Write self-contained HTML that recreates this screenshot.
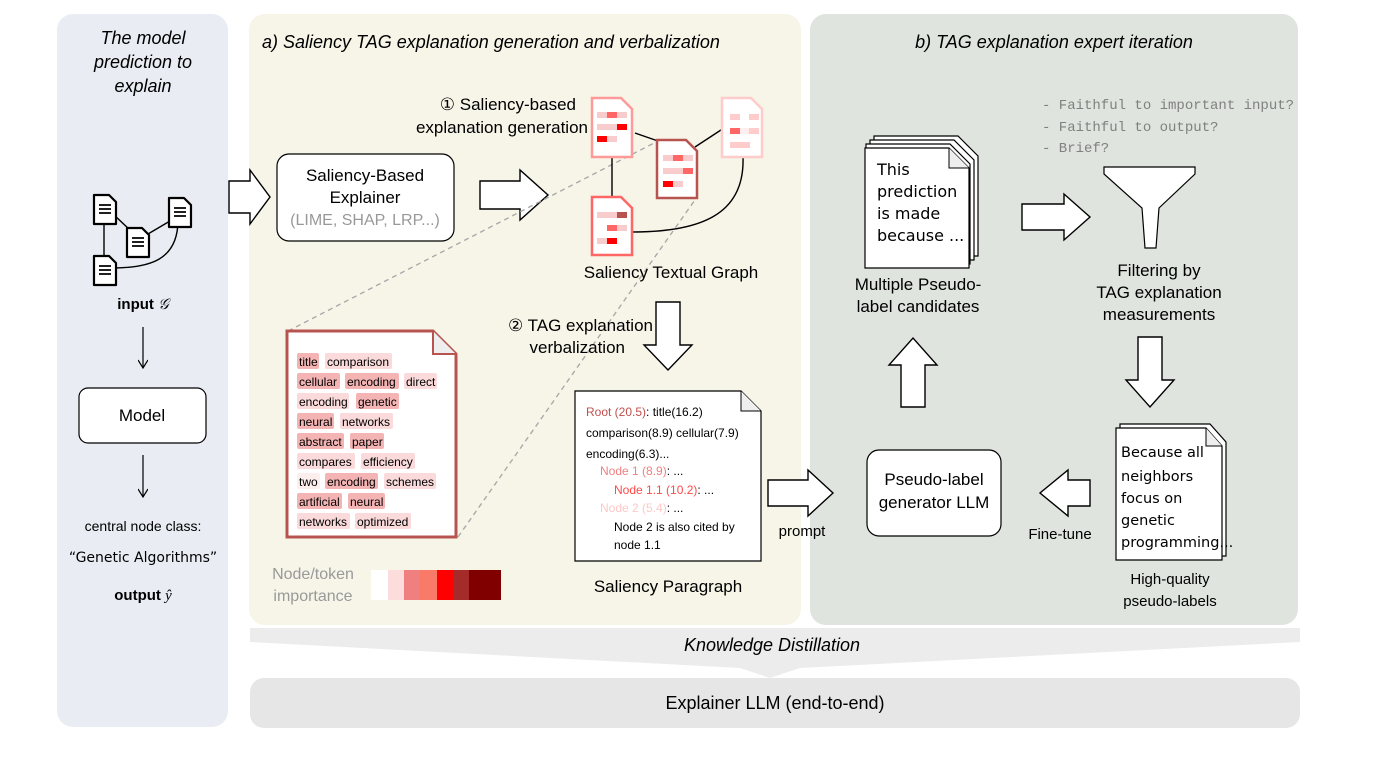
<!DOCTYPE html>
<html><head><meta charset="utf-8"><style>
html,body{margin:0;padding:0;background:#fff;}
svg{display:block;font-family:"Liberation Sans",sans-serif;}
.c{font-family:"DejaVu Sans","Liberation Sans",sans-serif;}
</style></head><body>
<svg width="1380" height="759" viewBox="0 0 1380 759" xmlns="http://www.w3.org/2000/svg">
<defs>
<marker id="ah" markerWidth="10" markerHeight="10" refX="9" refY="5" orient="auto" markerUnits="userSpaceOnUse"><path d="M1,0 L9,5 L1,10" fill="none" stroke="#000" stroke-width="1.2"/></marker>
</defs>
<!-- panels -->
<rect x="57" y="14" width="171" height="713" rx="16" fill="#e9edf3"/>
<polygon points="250,628 1300,628 1300,642 800,668 770,678 740,668 250,642" fill="#ececec"/>
<rect x="249" y="14" width="552" height="611" rx="16" fill="#f7f4e8"/>
<rect x="810" y="14" width="488" height="611" rx="16" fill="#dfe4df"/>
<rect x="250" y="678" width="1050" height="50" rx="14" fill="#e6e6e6"/>

<!-- left panel -->
<g font-style="italic" font-size="18" text-anchor="middle">
<text x="143" y="44">The model</text><text x="143" y="68">prediction to</text><text x="143" y="92">explain</text></g>
<g stroke="#000" stroke-width="1.4" fill="none">
<line x1="104" y1="208" x2="104" y2="262"/>
<line x1="113" y1="214" x2="130" y2="230"/>
<line x1="148" y1="234" x2="170" y2="221"/>
<path d="M178,220 C178,260 150,268 112,268"/>
</g>
<g fill="#fff" stroke="#000" stroke-width="2.2" stroke-linejoin="round">
<path d="M94,195 h15 l7,7 v22 h-22 z"/><path d="M169,198 h15 l7,7 v22 h-22 z"/>
<path d="M127,228 h15 l7,7 v22 h-22 z"/><path d="M94,256 h15 l7,7 v22 h-22 z"/>
</g>
<g stroke="#000" stroke-width="1.8">
<path d="M99,205h12M99,209h12M99,213h12M174,208h12M174,212h12M174,216h12M132,238h12M132,242h12M132,246h12M99,266h12M99,270h12M99,274h12"/></g>
<text x="143" y="309" font-size="15" text-anchor="middle"><tspan font-weight="bold">input </tspan><tspan font-style="italic" font-family="Liberation Serif">𝒢</tspan></text>
<line x1="143" y1="327" x2="143" y2="368" stroke="#000" stroke-width="1.2" marker-end="url(#ah)"/>
<rect x="79" y="388" width="127" height="55" rx="9" fill="#fff" stroke="#000" stroke-width="1.2"/>
<text x="142" y="421" font-size="17" text-anchor="middle">Model</text>
<line x1="143" y1="455" x2="143" y2="497" stroke="#000" stroke-width="1.2" marker-end="url(#ah)"/>
<text x="143" y="531" font-size="14" text-anchor="middle">central node class:</text>
<text x="143" y="562" font-size="14" text-anchor="middle" class="c">“Genetic Algorithms”</text>
<text x="143" y="600" font-size="15" text-anchor="middle"><tspan font-weight="bold">output </tspan><tspan font-style="italic" font-family="Liberation Serif">ŷ</tspan></text>

<!-- middle panel -->
<text x="262" y="48" font-size="18" font-style="italic">a) Saliency TAG explanation generation and verbalization</text>
<g fill="#fff" stroke="#000" stroke-width="1.4">
<polygon points="229,181 250,181 250,170 270,197 250,224 250,213 229,213"/>
<polygon points="480,181 520,181 520,170 548,195 520,220 520,209 480,209"/>
<polygon points="656,302 680,302 680,345 692,345 668,370 644,345 656,345"/>
<polygon points="768,480 808,480 808,470 833,493 808,516 808,506 768,506"/>
</g>
<rect x="277" y="154" width="177" height="87" rx="12" fill="#fff" stroke="#000" stroke-width="1.2"/>
<text x="365" y="181" font-size="17" text-anchor="middle">Saliency-Based</text>
<text x="365" y="203" font-size="17" text-anchor="middle">Explainer</text>
<text x="365" y="225" font-size="16" text-anchor="middle" fill="#999">(LIME, SHAP, LRP...)</text>
<text x="576" y="110" font-size="17" text-anchor="end">① Saliency-based</text>
<text x="588" y="133" font-size="17" text-anchor="end">explanation generation</text>
<g stroke="#aaa" stroke-width="1.4" stroke-dasharray="5,4" fill="none">
<line x1="288" y1="331" x2="658" y2="141"/>
<line x1="458" y1="537" x2="697" y2="197"/>
</g>
<g stroke="#000" stroke-width="1.4" fill="none">
<line x1="635" y1="133" x2="658" y2="141"/>
<line x1="695" y1="147" x2="724" y2="128"/>
<line x1="612" y1="157" x2="612" y2="197"/>
<path d="M743,157 C745,215 700,232 632,232"/>
</g>
<g stroke-width="2.5" fill="#fff">
<path d="M592,98 h29 l11,11 v48 h-40 z" stroke="#ff9a9a"/>
<path d="M657,140 h29 l11,11 v47 h-40 z" stroke="#b85450"/>
<path d="M722,98 h29 l11,11 v48 h-40 z" stroke="#ffcccc"/>
<path d="M592,197 h29 l11,11 v47 h-40 z" stroke="#ff6666"/>
</g>
<g>
<rect x="597" y="112" width="30" height="6" fill="#f8cccc"/><rect x="607" y="112" width="10" height="6" fill="#ff6666"/>
<rect x="597" y="124" width="30" height="6" fill="#f8cccc"/><rect x="617" y="124" width="10" height="6" fill="#ff0000"/>
<rect x="597" y="136" width="20" height="6" fill="#f8cccc"/><rect x="597" y="136" width="10" height="6" fill="#ff0000"/>
<rect x="663" y="155" width="30" height="6" fill="#f8cccc"/><rect x="673" y="155" width="10" height="6" fill="#ff6666"/>
<rect x="663" y="168" width="30" height="6" fill="#f8cccc"/><rect x="683" y="168" width="10" height="6" fill="#ff6666"/>
<rect x="663" y="181" width="20" height="6" fill="#f8cccc"/><rect x="663" y="181" width="10" height="6" fill="#ff0000"/>
<rect x="730" y="114" width="10" height="6" fill="#ffcccc"/><rect x="749" y="114" width="10" height="6" fill="#ffcccc"/>
<rect x="730" y="128" width="10" height="6" fill="#ff6666"/><rect x="740" y="128" width="9" height="6" fill="#ffeeee"/><rect x="749" y="128" width="10" height="6" fill="#ffcccc"/>
<rect x="730" y="142" width="20" height="6" fill="#ffcccc"/>
<rect x="597" y="212" width="30" height="6" fill="#f8cccc"/><rect x="617" y="212" width="10" height="6" fill="#b85450"/>
<rect x="607" y="225" width="20" height="6" fill="#f8cccc"/><rect x="607" y="225" width="10" height="6" fill="#ff6666"/>
<rect x="597" y="238" width="20" height="6" fill="#f8cccc"/><rect x="607" y="238" width="10" height="6" fill="#ff0000"/>
</g>
<text x="671" y="278" font-size="17" text-anchor="middle">Saliency Textual Graph</text>
<text x="653" y="331" font-size="17" text-anchor="end">② TAG explanation</text>
<text x="625" y="353" font-size="17" text-anchor="end">verbalization</text>

<path d="M287,331 h146 l23,23 v183 h-169 z" fill="#fff" stroke="#b85450" stroke-width="3"/>
<path d="M433,331 v23 h23" fill="#eee" stroke="#b85450" stroke-width="2"/>
<g font-size="12">
<g fill="#f4b4b4"><rect x="297" y="353" width="22" height="16" rx="2"/><rect x="297" y="373" width="43" height="16" rx="2"/><rect x="345" y="373" width="54" height="16" rx="2"/><rect x="356" y="393" width="43" height="16" rx="2"/><rect x="297" y="413" width="37" height="16" rx="2"/><rect x="297" y="433" width="47" height="16" rx="2"/><rect x="350" y="433" width="34" height="16" rx="2"/><rect x="325" y="473" width="53" height="16" rx="2"/><rect x="297" y="493" width="45" height="16" rx="2"/><rect x="348" y="493" width="37" height="16" rx="2"/></g>
<g fill="#fadada"><rect x="325" y="353" width="67" height="16" rx="2"/><rect x="404" y="373" width="33" height="16" rx="2"/><rect x="297" y="393" width="52" height="16" rx="2"/><rect x="340" y="413" width="53" height="16" rx="2"/><rect x="297" y="453" width="58" height="16" rx="2"/><rect x="361" y="453" width="54" height="16" rx="2"/><rect x="384" y="473" width="52" height="16" rx="2"/><rect x="297" y="513" width="53" height="16" rx="2"/><rect x="355" y="513" width="56" height="16" rx="2"/></g>
<g fill="#fdeeee"><rect x="297" y="473" width="23" height="16" rx="2"/></g>
<text x="299" y="366">title</text><text x="327" y="366">comparison</text>
<text x="299" y="386">cellular</text><text x="347" y="386">encoding</text><text x="406" y="386">direct</text>
<text x="299" y="406">encoding</text><text x="358" y="406">genetic</text>
<text x="299" y="426">neural</text><text x="342" y="426">networks</text>
<text x="299" y="446">abstract</text><text x="352" y="446">paper</text>
<text x="299" y="466">compares</text><text x="363" y="466">efficiency</text>
<text x="299" y="486">two</text><text x="327" y="486">encoding</text><text x="386" y="486">schemes</text>
<text x="299" y="506">artificial</text><text x="350" y="506">neural</text>
<text x="299" y="526">networks</text><text x="357" y="526">optimized</text>
</g>
<text x="313" y="579" font-size="16" fill="#999" text-anchor="middle">Node/token</text>
<text x="313" y="601" font-size="16" fill="#999" text-anchor="middle">importance</text>
<rect x="371" y="570" width="17" height="30" fill="#fff"/><rect x="388" y="570" width="16" height="30" fill="#fddcdc"/><rect x="404" y="570" width="16" height="30" fill="#f08080"/><rect x="420" y="570" width="17" height="30" fill="#fa7a6a"/><rect x="437" y="570" width="16" height="30" fill="#ff0000"/><rect x="453" y="570" width="16" height="30" fill="#a52a2a"/><rect x="469" y="570" width="32" height="30" fill="#800000"/>

<path d="M575,391 h166 l20,20 v150 h-186 z" fill="#fff" stroke="#000" stroke-width="1.2"/>
<path d="M741,391 v20 h20" fill="#eee" stroke="#000" stroke-width="1"/>
<g font-size="12">
<text x="586" y="416"><tspan fill="#c0504d">Root (20.5)</tspan>: title(16.2)</text>
<text x="586" y="437">comparison(8.9) cellular(7.9)</text>
<text x="586" y="458">encoding(6.3)...</text>
<text x="600" y="475"><tspan fill="#f08080">Node 1 (8.9)</tspan>: ...</text>
<text x="614" y="494"><tspan fill="#ff4a4a">Node 1.1 (10.2)</tspan>: ...</text>
<text x="600" y="512"><tspan fill="#ffc8c8">Node 2 (5.4)</tspan>: ...</text>
<text x="614" y="531">Node 2 is also cited by</text>
<text x="614" y="549">node 1.1</text>
</g>
<text x="668" y="592" font-size="17" text-anchor="middle">Saliency Paragraph</text>
<text x="802" y="536" font-size="15" text-anchor="middle">prompt</text>

<!-- right panel -->
<text x="1054" y="48" font-size="18" font-style="italic" text-anchor="middle">b) TAG explanation expert iteration</text>
<g font-family="Liberation Mono,monospace" font-size="14" fill="#808080">
<text x="1042" y="109">- Faithful to important input?</text>
<text x="1042" y="131">- Faithful to output?</text>
<text x="1042" y="152">- Brief?</text></g>
<g fill="#fff" stroke="#000" stroke-width="1.2">
<path d="M874,136 h84 l20,20 v100 h-104 z"/>
<path d="M870,140 h84 l20,20 v100 h-104 z"/>
<path d="M866,144 h84 l20,20 v100 h-104 z"/>
<path d="M865,148 h84 l20,20 v100 h-104 z"/>
</g>
<path d="M949,148 v20 h20" fill="#eee" stroke="#000" stroke-width="1"/>
<g class="c" font-size="16"><text x="877" y="175">This</text><text x="877" y="197">prediction</text><text x="877" y="219">is made</text><text x="877" y="241">because ...</text></g>
<text x="918" y="290" font-size="17" text-anchor="middle">Multiple Pseudo-</text>
<text x="918" y="312" font-size="17" text-anchor="middle">label candidates</text>
<g fill="#fff" stroke="#000" stroke-width="1.4">
<polygon points="1022,204 1064,204 1064,194 1090,217 1064,240 1064,230 1022,230"/>
<polygon points="1138,337 1162,337 1162,380 1174,380 1150,407 1126,380 1138,380"/>
<polygon points="1090,480 1068,480 1068,470 1040,493 1068,516 1068,506 1090,506"/>
<polygon points="901,407 925,407 925,365 937,365 913,338 889,365 901,365"/>
</g>
<polygon points="1104,167 1195,167 1195,174 1159,208 1156,248 1145,248 1142,208 1104,174" fill="#fff" stroke="#000" stroke-width="1.2"/>
<text x="1159" y="276" font-size="17" text-anchor="middle">Filtering by</text>
<text x="1159" y="298" font-size="17" text-anchor="middle">TAG explanation</text>
<text x="1159" y="320" font-size="17" text-anchor="middle">measurements</text>
<rect x="867" y="450" width="134" height="86" rx="12" fill="#fff" stroke="#000" stroke-width="1.2"/>
<text x="934" y="485" font-size="17" text-anchor="middle">Pseudo-label</text>
<text x="934" y="508" font-size="17" text-anchor="middle">generator LLM</text>
<text x="1060" y="539" font-size="15" text-anchor="middle">Fine-tune</text>
<g fill="#fff" stroke="#000" stroke-width="1.2">
<path d="M1120,424 h90 l16,18 v114 h-106 z"/>
<path d="M1116,428 h90 l16,18 v114 h-106 z"/>
</g>
<path d="M1206,428 v18 h16" fill="#eee" stroke="#000" stroke-width="1"/>
<g class="c" font-size="14.5"><text x="1121" y="457">Because all</text><text x="1121" y="481">neighbors</text><text x="1121" y="503">focus on</text><text x="1121" y="525">genetic</text><text x="1121" y="547">programming...</text></g>
<text x="1170" y="584" font-size="15" text-anchor="middle">High-quality</text>
<text x="1170" y="606" font-size="15" text-anchor="middle">pseudo-labels</text>

<text x="772" y="651" font-size="18" font-style="italic" text-anchor="middle">Knowledge Distillation</text>
<text x="775" y="709" font-size="18" text-anchor="middle">Explainer LLM (end-to-end)</text>
</svg>
</body></html>
